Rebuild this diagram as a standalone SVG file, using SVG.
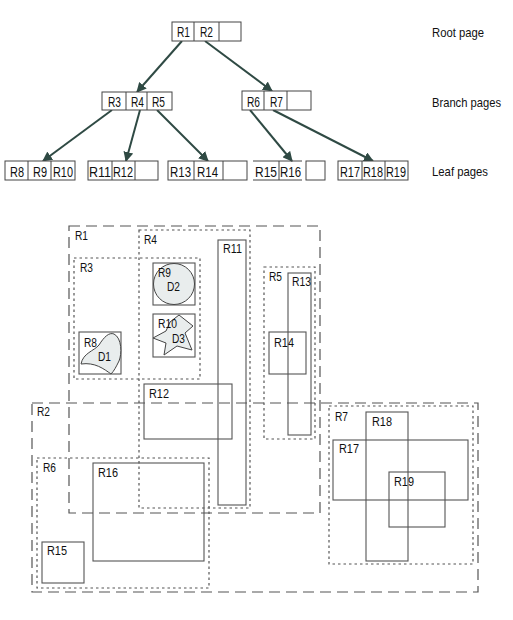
<svg xmlns="http://www.w3.org/2000/svg" width="513" height="620" viewBox="0 0 513 620">
<defs>
<style>
.cell{fill:#fff;stroke:#444;stroke-width:1}
.t{font-family:"Liberation Sans",Arial,sans-serif;font-size:15px;fill:#111}
.lv{font-family:"Liberation Sans",Arial,sans-serif;font-size:13px;fill:#111}
.s{font-family:"Liberation Sans",Arial,sans-serif;font-size:12px;fill:#111}
.arr{stroke:#2f4a44;stroke-width:2;fill:none;marker-end:url(#ah)}
.big{fill:none;stroke:#555;stroke-width:1.2;stroke-dasharray:11 6}
.dot{fill:none;stroke:#555;stroke-width:1.2;stroke-dasharray:2.5 3}
.sol{fill:none;stroke:#555;stroke-width:1.1}
.shape{fill:#e9eded;stroke:#444;stroke-width:1}
</style>
<marker id="ah" viewBox="0 0 10 10" refX="9" refY="5" markerWidth="5" markerHeight="5" orient="auto" markerUnits="strokeWidth">
<path d="M0,0 L10,5 L0,10 Z" fill="#2f4a44"/>
</marker>
</defs>
<rect width="513" height="620" fill="#fff"/>

<g id="connectors">
<line class="arr" x1="182" y1="41" x2="137" y2="92"/>
<line class="arr" x1="205" y1="41" x2="272" y2="91"/>
<line class="arr" x1="112" y1="110" x2="43" y2="161"/>
<line class="arr" x1="140" y1="110" x2="126" y2="161"/>
<line class="arr" x1="157" y1="110" x2="208" y2="161"/>
<line class="arr" x1="250" y1="110" x2="292" y2="161"/>
<line class="arr" x1="273" y1="110" x2="373" y2="161"/>
</g>

<g id="root">
<rect class="cell" x="172" y="22" width="69" height="19"/>
<line class="cell" x1="194" y1="22" x2="194" y2="41"/>
<line class="cell" x1="219" y1="22" x2="219" y2="41"/>
<text class="t" x="177" y="37" textLength="13" lengthAdjust="spacingAndGlyphs">R1</text>
<text class="t" x="200" y="37" textLength="13" lengthAdjust="spacingAndGlyphs">R2</text>
</g>

<g id="branch1">
<rect class="cell" x="102" y="92" width="70" height="18"/>
<line class="cell" x1="126" y1="92" x2="126" y2="110"/>
<line class="cell" x1="147" y1="92" x2="147" y2="110"/>
<text class="t" x="108" y="107" textLength="13" lengthAdjust="spacingAndGlyphs">R3</text>
<text class="t" x="131" y="107" textLength="13" lengthAdjust="spacingAndGlyphs">R4</text>
<text class="t" x="152" y="107" textLength="13" lengthAdjust="spacingAndGlyphs">R5</text>
</g>

<g id="branch2">
<rect class="cell" x="242" y="91" width="69" height="19"/>
<line class="cell" x1="264" y1="91" x2="264" y2="110"/>
<line class="cell" x1="287" y1="91" x2="287" y2="110"/>
<text class="t" x="247" y="107" textLength="13" lengthAdjust="spacingAndGlyphs">R6</text>
<text class="t" x="270" y="107" textLength="13" lengthAdjust="spacingAndGlyphs">R7</text>
</g>

<g id="leaf1">
<rect class="cell" x="5" y="161" width="70" height="19"/>
<line class="cell" x1="28" y1="161" x2="28" y2="180"/>
<line class="cell" x1="51" y1="161" x2="51" y2="180"/>
<text class="t" x="10" y="177" textLength="14" lengthAdjust="spacingAndGlyphs">R8</text>
<text class="t" x="33" y="177" textLength="14" lengthAdjust="spacingAndGlyphs">R9</text>
<text class="t" x="53" y="177" textLength="20" lengthAdjust="spacingAndGlyphs">R10</text>
</g>

<g id="leaf2">
<rect class="cell" x="88" y="161" width="70" height="19"/>
<line class="cell" x1="112" y1="161" x2="112" y2="180"/>
<line class="cell" x1="135" y1="161" x2="135" y2="180"/>
<text class="t" x="89" y="177" textLength="22" lengthAdjust="spacingAndGlyphs">R11</text>
<text class="t" x="113" y="177" textLength="20" lengthAdjust="spacingAndGlyphs">R12</text>
</g>

<g id="leaf3">
<rect class="cell" x="168" y="161" width="79" height="19"/>
<line class="cell" x1="194" y1="161" x2="194" y2="180"/>
<line class="cell" x1="223" y1="161" x2="223" y2="180"/>
<text class="t" x="170" y="177" textLength="21" lengthAdjust="spacingAndGlyphs">R13</text>
<text class="t" x="197" y="177" textLength="21" lengthAdjust="spacingAndGlyphs">R14</text>
</g>

<g id="leaf4">
<line class="cell" x1="253" y1="161" x2="302" y2="161"/>
<line class="cell" x1="253" y1="180" x2="302" y2="180"/>
<line class="cell" x1="279" y1="161" x2="279" y2="180"/>
<rect class="cell" x="306" y="161" width="19" height="19"/>
<text class="t" x="255" y="177" textLength="22" lengthAdjust="spacingAndGlyphs">R15</text>
<text class="t" x="280" y="177" textLength="21" lengthAdjust="spacingAndGlyphs">R16</text>
</g>

<g id="leaf5">
<rect class="cell" x="338" y="161" width="70" height="19"/>
<line class="cell" x1="362" y1="161" x2="362" y2="180"/>
<line class="cell" x1="385" y1="161" x2="385" y2="180"/>
<text class="t" x="340" y="177" textLength="20" lengthAdjust="spacingAndGlyphs">R17</text>
<text class="t" x="363" y="177" textLength="20" lengthAdjust="spacingAndGlyphs">R18</text>
<text class="t" x="386" y="177" textLength="20" lengthAdjust="spacingAndGlyphs">R19</text>
</g>

<g id="levels">
<text class="lv" x="432" y="37" textLength="52" lengthAdjust="spacingAndGlyphs">Root page</text>
<text class="lv" x="432" y="107" textLength="69" lengthAdjust="spacingAndGlyphs">Branch pages</text>
<text class="lv" x="432" y="176" textLength="56" lengthAdjust="spacingAndGlyphs">Leaf pages</text>
</g>

<g id="regions">
<rect class="big" x="69" y="226" width="251" height="287"/>
<rect class="big" x="32" y="403" width="446" height="189"/>
<rect class="dot" x="139" y="230" width="111" height="278"/>
<rect class="dot" x="74" y="258" width="126" height="121"/>
<rect class="dot" x="264" y="267" width="51" height="172"/>
<rect class="dot" x="37" y="458" width="172" height="130"/>
<rect class="dot" x="329" y="406" width="144" height="158"/>
<rect class="sol" x="218" y="240" width="28" height="265"/>
<rect class="sol" x="153" y="263" width="42" height="42"/>
<circle class="shape" cx="174" cy="284" r="20.5"/>
<rect class="sol" x="153" y="314" width="42" height="43"/>
<polygon class="shape" points="179,315 193,326 185,333 192,350 177,346 164,355 166,343 153,338 166,331 170,322"/>
<rect class="sol" x="79" y="332" width="42" height="42"/>
<path class="shape" d="M81,364 C83,353 94,351 99,345 C104,337 109,332 114,334 C122,338 122,354 119,361 C116,367 114,371 111,374 C104,369 95,362 81,364 Z"/>
<rect class="sol" x="144" y="384" width="88" height="55"/>
<rect class="sol" x="288" y="273" width="23" height="162"/>
<rect class="sol" x="269" y="332" width="37" height="42"/>
<rect class="sol" x="93" y="463" width="111" height="98"/>
<rect class="sol" x="42" y="542" width="42" height="41"/>
<rect class="sol" x="366" y="412" width="42" height="149"/>
<rect class="sol" x="333" y="440" width="135" height="60"/>
<rect class="sol" x="389" y="472" width="56" height="55"/>

<text class="s" x="75" y="240" textLength="13" lengthAdjust="spacingAndGlyphs">R1</text>
<text class="s" x="144" y="244" textLength="13" lengthAdjust="spacingAndGlyphs">R4</text>
<text class="s" x="223" y="253" textLength="19" lengthAdjust="spacingAndGlyphs">R11</text>
<text class="s" x="80" y="272" textLength="13" lengthAdjust="spacingAndGlyphs">R3</text>
<text class="s" x="158" y="277" textLength="13" lengthAdjust="spacingAndGlyphs">R9</text>
<text class="s" x="167" y="291" textLength="13" lengthAdjust="spacingAndGlyphs">D2</text>
<text class="s" x="158" y="328" textLength="19" lengthAdjust="spacingAndGlyphs">R10</text>
<text class="s" x="172" y="343" textLength="13" lengthAdjust="spacingAndGlyphs">D3</text>
<text class="s" x="84" y="347" textLength="13" lengthAdjust="spacingAndGlyphs">R8</text>
<text class="s" x="98" y="361" textLength="13" lengthAdjust="spacingAndGlyphs">D1</text>
<text class="s" x="149" y="398" textLength="20" lengthAdjust="spacingAndGlyphs">R12</text>
<text class="s" x="269" y="281" textLength="13" lengthAdjust="spacingAndGlyphs">R5</text>
<text class="s" x="292" y="286" textLength="19" lengthAdjust="spacingAndGlyphs">R13</text>
<text class="s" x="274" y="347" textLength="20" lengthAdjust="spacingAndGlyphs">R14</text>
<text class="s" x="37" y="416" textLength="13" lengthAdjust="spacingAndGlyphs">R2</text>
<text class="s" x="43" y="472" textLength="13" lengthAdjust="spacingAndGlyphs">R6</text>
<text class="s" x="98" y="477" textLength="20" lengthAdjust="spacingAndGlyphs">R16</text>
<text class="s" x="47" y="555" textLength="20" lengthAdjust="spacingAndGlyphs">R15</text>
<text class="s" x="335" y="421" textLength="13" lengthAdjust="spacingAndGlyphs">R7</text>
<text class="s" x="372" y="426" textLength="20" lengthAdjust="spacingAndGlyphs">R18</text>
<text class="s" x="339" y="453" textLength="20" lengthAdjust="spacingAndGlyphs">R17</text>
<text class="s" x="394" y="486" textLength="20" lengthAdjust="spacingAndGlyphs">R19</text>
</g>
</svg>
